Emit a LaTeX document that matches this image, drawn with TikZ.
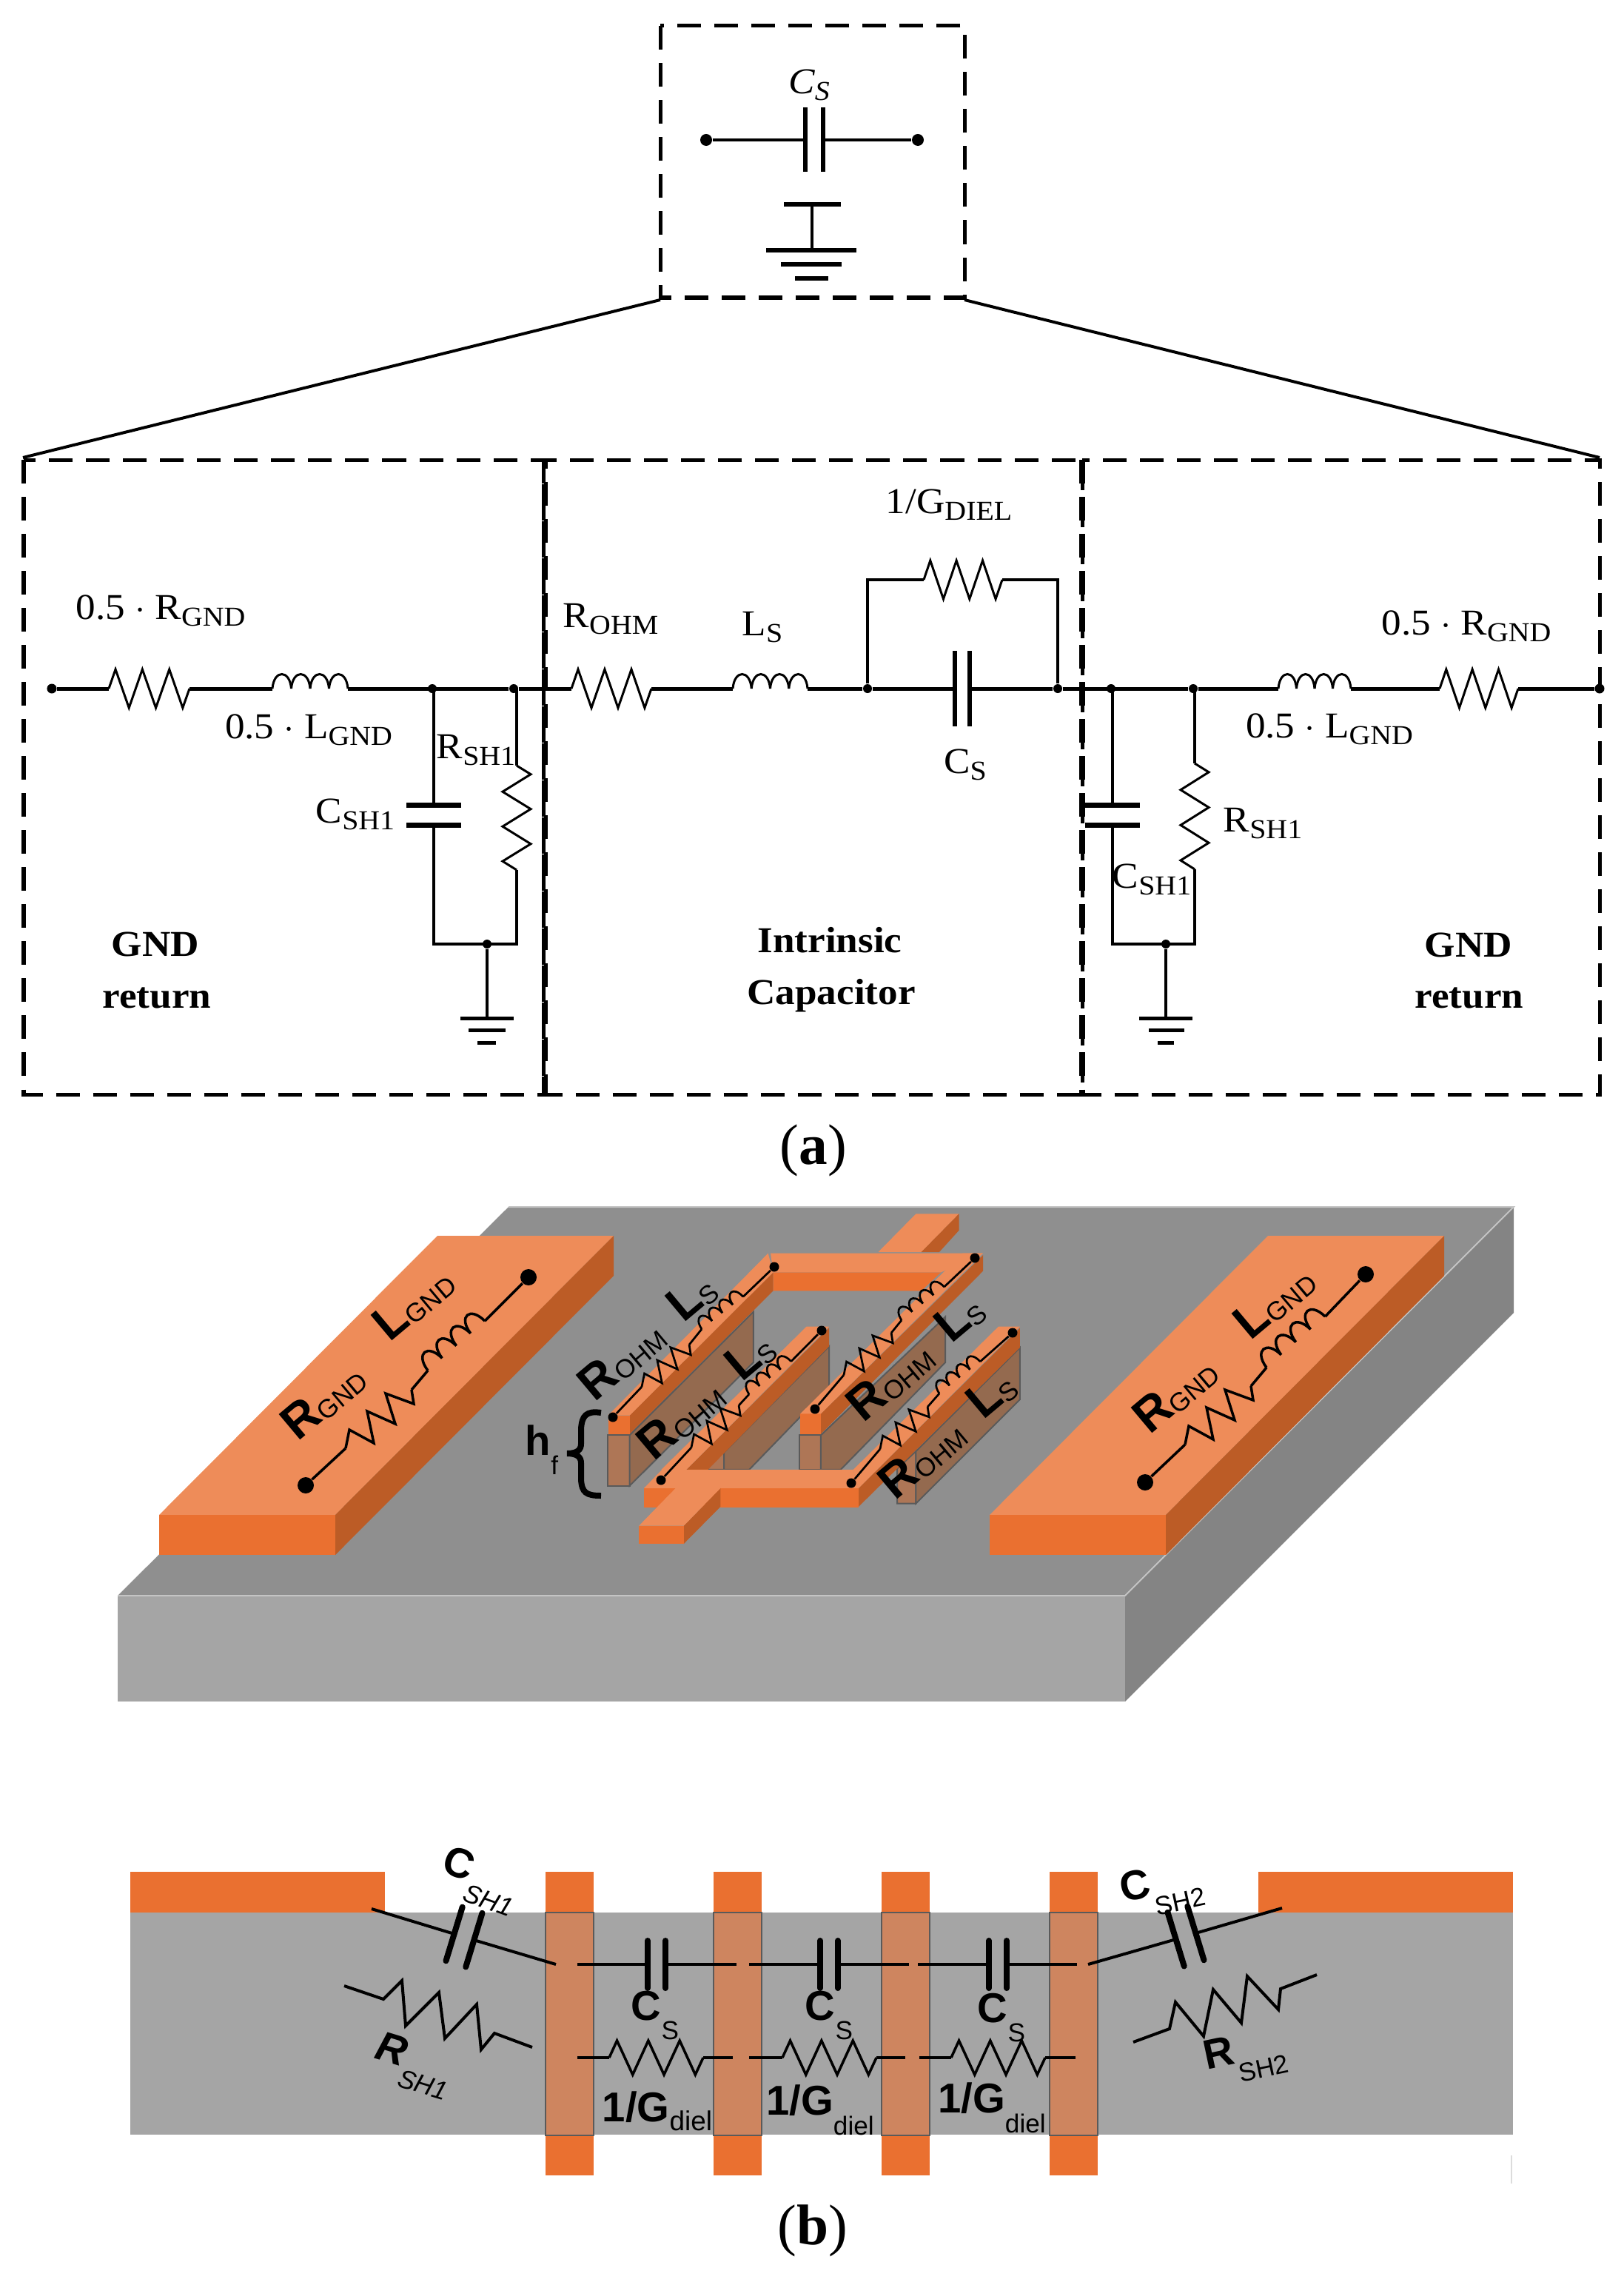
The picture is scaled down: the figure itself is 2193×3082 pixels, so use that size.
\documentclass[tikz,border=0pt]{standalone}
\usepackage{fontspec}
\setsansfont{Liberation Sans}
\newfontfamily\cktfont[FakeStretch=1.08]{Liberation Serif}
\newfontfamily\capfont{Liberation Serif}
\usetikzlibrary{calc,positioning}
\definecolor{padTop}{HTML}{EE8C59}
\definecolor{padFront}{HTML}{EA7030}
\definecolor{padSide}{HTML}{BC5C26}
\definecolor{subTop}{HTML}{8F8F8F}
\definecolor{subFront}{HTML}{A5A5A5}
\definecolor{subSide}{HTML}{848484}
\definecolor{subEdge}{HTML}{C4C4C4}
\definecolor{brownFront}{HTML}{AE7656}
\definecolor{brownSide}{HTML}{946A4F}
\definecolor{brownEdge}{HTML}{5A5A5A}
\definecolor{barOver}{HTML}{CE855F}
% sub label text
\newcommand{\sublbl}[2]{#1{\raisebox{-.4ex}{\fontsize{10.5}{10.5}\selectfont #2}}}
\newcommand{\lowlbl}[2]{#1{\raisebox{-.9ex}{\fontsize{10}{10}\selectfont\mdseries #2}}}
\newcommand{\taglbl}[2]{{\fontsize{18.5}{18.5}\selectfont #1}{\raisebox{-.2ex}{\fontsize{10}{10}\selectfont\mdseries #2}}}
\tikzset{
  dashbox/.style={line width=.05cm, dash pattern=on .32cm off .18cm},
  wire/.style={line width=.04cm},
  zigwire/.style={line width=.03cm, line join=miter},
  jdot/.style={circle, fill=black, inner sep=0pt, minimum size=.12cm},
  gndbar/.style={line width=.05cm},
  ckt/.style={font=\cktfont\fontsize{14}{14}\selectfont},
  cktb/.style={font=\cktfont\bfseries\fontsize{14}{14}\selectfont},
  brownbox/.style={draw=brownEdge, line width=.02cm},
  tag/.style={font=\sffamily\bfseries},
  tagb/.style={font=\sffamily\bfseries\fontsize{16}{16}\selectfont},
  res/.pic={
    \draw (0,0) -- (.083,-1) -- (.25,1) -- (.416,-1) -- (.583,1) -- (.75,-1) -- (.916,1) -- (1,0);
    \coordinate (-e) at (1,0);
  },
  ind/.pic={
    \foreach \h in {0,.25,.5,.75}
      \draw (\h,0) .. controls (\h+.02,-1.3) and (\h+.23,-1.3) .. (\h+.25,0);
    \coordinate (-e) at (1,0);
  },
  resthree/.pic={
    \draw (0,0) -- (5,-25) -- (38,-7) -- (29,-50) -- (67,-33) -- (54,-74) -- (92,-60) -- (89,-79);
    \coordinate (-e) at (89,-79);
  },
  cap/.pic={
    \draw (-1,-1) -- (-1,1) (1,-1) -- (1,1);
    \coordinate (-w) at (-1,0);
    \coordinate (-e) at (1,0);
  }
}
\begin{document}
\begin{tikzpicture}[x=.01cm,y=-.01cm]
  \useasboundingbox (0,0) rectangle (2193,3082);

  % Zoom box with the lumped capacitor
  \draw[dashbox] (892,35) rectangle (1303,402);
  \node[ckt, font=\cktfont\itshape\fontsize{14}{14}\selectfont] (csTop) at (1093,115) {\sublbl{C}{S}};
  \node[jdot, minimum size=.16cm] (topL) at (954,189) {};
  \node[jdot, minimum size=.16cm] (topR) at (1240,189) {};
  \pic (capTop) [line width=.06cm, xscale=12, yscale=43.5] at (1100,189) {cap};
  \draw[wire] (topL) -- (capTop-w) (capTop-e) -- (topR);
  \draw[line width=.055cm] (1059,276) -- (1136,276);
  \draw[wire] (1097,276) -- (1097,338);
  \draw[line width=.055cm] (1035,338) -- (1157,338) (1055,357) -- (1137,357) (1074,376) -- (1119,376);

  % Lines opening out to the full circuit
  \coordinate (zoomL) at (892,405);
  \coordinate (zoomR) at (1303,405);
  \coordinate (bigL) at (31,618);
  \coordinate (bigR) at (2161,618);
  \draw[wire] (zoomL) -- (bigL) (zoomR) -- (bigR);

  % Three dashed blocks
  \draw[dashbox] (32,621) rectangle (734,1478);
  \draw[dashbox] (734,621) rectangle (1462,1478);
  \draw[dashbox] (1462,621) rectangle (2161,1478);
  \draw[dashbox, dash phase=.2cm] (737,621) -- (737,1478);
  \draw[dashbox, line width=.085cm] (1462,621) -- (1462,1478);

  % Series branch
  \node[jdot, minimum size=.13cm] (termL) at (70,930) {};
  \pic (r1) [zigwire, xscale=109, yscale=26] at (147,930) {res};
  \pic (l1) [zigwire, xscale=102, yscale=20] at (368,930) {ind};
  \node[jdot] (na) at (584,930) {};
  \node[jdot] (nb) at (694,930) {};
  \pic (r2) [zigwire, xscale=108, yscale=26] at (772,930) {res};
  \pic (l2) [zigwire, xscale=101, yscale=20] at (990,930) {ind};
  \node[jdot] (nc) at (1172,930) {};
  \node[jdot] (nd) at (1429,930) {};
  \pic (cs) [line width=.065cm, xscale=10, yscale=51] at (1300,930) {cap};
  \node[jdot] (ne) at (1501,930) {};
  \node[jdot] (nf) at (1612,930) {};
  \pic (l3) [zigwire, xscale=98, yscale=20] at (1727,930) {ind};
  \pic (r4) [zigwire, xscale=106, yscale=26] at (1945,930) {res};
  \node[jdot, minimum size=.13cm] (termR) at (2161,930) {};
  \draw[wire, line width=.05cm] (termL) -- (147,930) (r1-e) -- (368,930) (l1-e) -- (nb) -- (772,930) (r2-e) -- (990,930)
    (l2-e) -- (nc) -- (cs-w) (cs-e) -- (nd) -- (nf) -- (1727,930) (l3-e) -- (1945,930) (r4-e) -- (termR);

  % Parallel resistor over the series capacitor
  \pic (r3) [zigwire, xscale=106, yscale=26] at (1248,783) {res};
  \draw[wire] (nc) -- (1172,783) -- (1248,783) (r3-e) -- (1429,783) -- (nd);

  % Left shunt branch
  \pic (csh1) [line width=.075cm, rotate=90, xscale=13.5, yscale=37] at (586,1101) {cap};
  \pic (rsh1) [zigwire, rotate=-90, xscale=141, yscale=19] at (698,1034) {res};
  \coordinate (lowL) at (586,1275);
  \coordinate (lowR) at (698,1275);
  \node[jdot] (ng) at (658,1275) {};
  \draw[wire] (586,930) -- (csh1-e) (csh1-w) -- (lowL) -- (lowR) -- (rsh1-e) (698,1034) -- (698,930);
  \draw[wire] (ng) -- (658,1375);
  \draw[gndbar] (622,1375) -- (694,1375) (633,1391) -- (683,1391) (645,1408) -- (670,1408);

  % Right shunt branch
  \pic (csh2) [line width=.075cm, rotate=90, xscale=13.5, yscale=37] at (1503,1101) {cap};
  \pic (rsh2) [zigwire, rotate=-90, xscale=143, yscale=19] at (1614,1031) {res};
  \coordinate (lowC) at (1503,1275);
  \coordinate (lowD) at (1614,1275);
  \node[jdot] (nh) at (1575,1275) {};
  \draw[wire] (1503,930) -- (csh2-e) (csh2-w) -- (lowC) -- (lowD) -- (rsh2-e) (1614,1031) -- (1614,930);
  \draw[wire] (nh) -- (1575,1375);
  \draw[gndbar] (1539,1375) -- (1611,1375) (1552,1391) -- (1600,1391) (1564,1408) -- (1586,1408);

  % Circuit labels
  \node[ckt] (lbRa) at (217,825) {0.5 $\cdot$ \sublbl{R}{GND}};
  \node[ckt] (lbLa) at (417,986) {0.5 $\cdot$ \sublbl{L}{GND}};
  \node[ckt] (lbRs) at (643,1013) {\sublbl{R}{SH1}};
  \node[ckt] (lbCs) at (480,1100) {\sublbl{C}{SH1}};
  \node[ckt] (lbRo) at (825,836) {\sublbl{R}{OHM}};
  \node[ckt] (lbLs) at (1030,847) {\sublbl{L}{S}};
  \node[ckt] (lbG) at (1282,682) {1/\sublbl{G}{DIEL}};
  \node[ckt] (lbC) at (1304,1033) {\sublbl{C}{S}};
  \node[ckt] (lbRb) at (1981,846) {0.5 $\cdot$ \sublbl{R}{GND}};
  \node[ckt] (lbLb) at (1796,985) {0.5 $\cdot$ \sublbl{L}{GND}};
  \node[ckt] (lbRt) at (1706,1112) {\sublbl{R}{SH1}};
  \node[ckt] (lbCt) at (1556,1188) {\sublbl{C}{SH1}};
  \node[cktb] (gndA) at (210,1275) {GND};
  \node[cktb] (retA) at (212,1348) {return};
  \node[cktb] (midA) at (1121,1270) {Intrinsic};
  \node[cktb] (midB) at (1123,1345) {Capacitor};
  \node[cktb] (gndB) at (1984,1276) {GND};
  \node[cktb] (retB) at (1985,1348) {return};
  \node[font=\capfont\fontsize{22}{22}\selectfont] (capA) at (1099,1554) {({\bfseries a})};

  % Substrate block
  \fill[subTop] (687,1630) -- (2045,1630) -- (1520,2155) -- (159,2155) -- cycle;
  \fill[subFront] (159,2155) rectangle (1520,2298);
  \fill[subSide] (2045,1630) -- (2045,1773) -- (1520,2298) -- (1520,2155) -- cycle;
  \draw[subEdge, line width=.02cm] (687,1630) -- (2045,1630) -- (1520,2155) -- (159,2155);

  % Ground pads
  \foreach \px in {0,1122} {
    \begin{scope}[shift={(\px,0)}]
      \fill[padTop] (591,1669) -- (829,1669) -- (453,2046) -- (215,2046) -- cycle;
      \fill[padFront] (215,2046) rectangle (453,2100);
      \fill[padSide] (829,1669) -- (829,1723) -- (453,2100) -- (453,2046) -- cycle;
    \end{scope}
  }

  % Comb, with corners as read off the close-up
  \begin{scope}[shift={(680,1620)},xscale=.4847,yscale=.3333]
    % back feed
    \fill[padTop] (1150,58) -- (1270,58) -- (1165,213) -- (1045,213) -- cycle;
    \fill[padSide] (1270,58) -- (1270,125) -- (1215,213) -- (1165,213) -- cycle;
    % dielectric walls
    \filldraw[brownbox, fill=brownFront] (290,955) rectangle (352,1160);
    \filldraw[brownbox, fill=brownSide] (352,955) -- (697,455) -- (697,660) -- (352,1160) -- cycle;
    \filldraw[brownbox, fill=brownFront] (825,955) rectangle (885,1095);
    \filldraw[brownbox, fill=brownSide] (885,955) -- (1232,475) -- (1232,660) -- (940,1095) -- (885,1095) -- cycle;
    \filldraw[brownbox, fill=brownFront] (570,1040) -- (615,1025) -- (615,1095) -- (570,1095) -- cycle;
    \filldraw[brownbox, fill=brownSide] (615,1025) -- (908,595) -- (908,760) -- (685,1095) -- (615,1095) -- cycle;
    \filldraw[brownbox, fill=brownFront] (1098,1090) -- (1150,1020) -- (1150,1232) -- (1098,1232) -- cycle;
    \filldraw[brownbox, fill=brownSide] (1150,1020) -- (1440,600) -- (1440,810) -- (1150,1232) -- cycle;
    % back comb
    \fill[padSide] (352,875) -- (752,295) -- (752,370) -- (352,950) -- cycle;
    \fill[padFront] (292,875) rectangle (352,950);
    \fill[padTop] (738,218) -- (752,295) -- (352,875) -- (292,875) -- cycle;
    \fill[padFront] (752,295) -- (1220,295) -- (1165,370) -- (752,370) -- cycle;
    \fill[padTop] (745,218) -- (1337,218) -- (1220,295) -- (752,295) -- cycle;
    \fill[padSide] (885,868) -- (1337,225) -- (1337,290) -- (885,950) -- cycle;
    \fill[padFront] (828,868) rectangle (885,950);
    \fill[padTop] (1280,218) -- (1337,218) -- (885,868) -- (828,868) -- cycle;
    % front comb
    \fill[padSide] (908,520) -- (908,595) -- (570,1095) -- (510,1095) -- cycle;
    \fill[padTop] (845,515) -- (908,515) -- (510,1095) -- (440,1095) -- cycle;
    \fill[padSide] (1440,520) -- (1440,600) -- (990,1245) -- (990,1170) -- cycle;
    \fill[padTop] (1380,515) -- (1440,515) -- (990,1170) -- (975,1095) -- cycle;
    \fill[padFront] (392,1170) rectangle (990,1248);
    \fill[padTop] (442,1095) -- (975,1095) -- (990,1170) -- (392,1170) -- cycle;
    % front feed
    \fill[padSide] (503,1322) -- (605,1170) -- (605,1245) -- (503,1395) -- cycle;
    \fill[padFront] (378,1322) rectangle (503,1395);
    \fill[padTop] (480,1170) -- (605,1170) -- (503,1322) -- (378,1322) -- cycle;
  \end{scope}

  % Pad circuits
  \node[jdot, minimum size=.22cm] (gaA) at (413,2006) {};
  \node[jdot, minimum size=.22cm] (gaB) at (714,1725) {};
  \pic (gaR) [zigwire, line width=.035cm] at (467,1956) {resthree};
  \pic (gaL) [zigwire, line width=.035cm, rotate=41, xscale=102, yscale=22] at (578,1851) {ind};
  \draw[zigwire, line width=.035cm] (gaA) -- (467,1956) (gaR-e) -- (578,1851) (gaL-e) -- (gaB);
  \node[jdot, minimum size=.22cm] (gbA) at (1547,2002) {};
  \node[jdot, minimum size=.22cm] (gbB) at (1845,1721) {};
  \pic (gbR) [zigwire, line width=.035cm] at (1601,1951) {resthree};
  \pic (gbL) [zigwire, line width=.035cm, rotate=41, xscale=105, yscale=22] at (1711,1847) {ind};
  \draw[zigwire, line width=.035cm] (gbA) -- (1601,1951) (gbR-e) -- (1711,1847) (gbL-e) -- (gbB);

  % Finger circuits
  \foreach \fn/\dA/\rS/\iS/\iL/\dB in {
    a/{828,1914}/{867,1873}/{948,1795}/71/{1046,1711},
    b/{893,1999}/{934,1955}/{1012,1883}/72/{1110,1797},
    c/{1101,1903}/{1140,1857}/{1218,1783}/73/{1317,1699},
    d/{1150,2003}/{1189,1957}/{1269,1882}/70/{1368,1800}} {
    \node[jdot, minimum size=.13cm] (\fn1) at (\dA) {};
    \node[jdot, minimum size=.13cm] (\fn2) at (\dB) {};
    \pic (\fn r) [zigwire, line width=.027cm, scale=.72] at (\rS) {resthree};
    \pic (\fn l) [zigwire, line width=.027cm, rotate=38, xscale=\iL, yscale=15] at (\iS) {ind};
    \draw[zigwire, line width=.027cm] (\fn1) -- (\rS) (\fn r-e) -- (\iS) (\fn l-e) -- (\fn2);
  }

  % Tags on the 3D view
  \node[tag, rotate=40] (tgRa) at (437,1892) {\taglbl{R}{GND}};
  \node[tag, rotate=40] (tgLa) at (559,1760) {\taglbl{L}{GND}};
  \node[tag, rotate=40] (tgRb) at (1588,1883) {\taglbl{R}{GND}};
  \node[tag, rotate=40] (tgLb) at (1722,1758) {\taglbl{L}{GND}};
  \node[tag, rotate=40] (tgOa) at (840,1837) {\taglbl{R}{OHM}};
  \node[tag, rotate=40] (tgOb) at (920,1917) {\taglbl{R}{OHM}};
  \node[tag, rotate=40] (tgOc) at (1203,1865) {\taglbl{R}{OHM}};
  \node[tag, rotate=40] (tgOd) at (1246,1970) {\taglbl{R}{OHM}};
  \node[tag, rotate=40] (tgSa) at (935,1752) {\taglbl{L}{S}};
  \node[tag, rotate=40] (tgSb) at (1014,1832) {\taglbl{L}{S}};
  \node[tag, rotate=40] (tgSc) at (1297,1780) {\taglbl{L}{S}};
  \node[tag, rotate=40] (tgSd) at (1340,1883) {\taglbl{L}{S}};

  % Height brace
  \draw[line width=.08cm] (812,1908) .. controls (792,1905) and (786,1912) .. (785,1930) -- (785,1950)
    .. controls (785,1958) and (780,1963) .. (766,1963) .. controls (780,1963) and (785,1968) .. (785,1976)
    -- (785,1998) .. controls (786,2016) and (792,2020) .. (812,2020);
  \node[font=\sffamily\bfseries\fontsize{16}{16}\selectfont] (hfTag) at (732,1958) {\lowlbl{h}{f}};

  % Cross section
  \fill[subFront] (176,2583) rectangle (2044,2883);
  \fill[padFront] (176,2528) rectangle (520,2583);
  \fill[padFront] (1700,2528) rectangle (2044,2583);
  \foreach \bx in {737,964,1191,1418} {
    \fill[padFront] (\bx,2528) rectangle +(65,410);
    \filldraw[fill=barOver, draw=brownEdge, line width=.02cm] (\bx,2583) rectangle +(65,301);
  }
  \draw[subEdge, line width=.015cm, opacity=.6] (2042,2911) -- (2042,2949);

  % Series capacitors and resistors
  \foreach \cn/\cx in {ca/887,cb/1120,cc/1348}
    \pic (\cn) [line width=.08cm, line cap=round, xscale=12, yscale=32] at (\cx,2653) {cap};
  \foreach \rn/\rx in {ra/823,rb/1057,rc/1285}
    \pic (\rn) [zigwire, line width=.035cm, xscale=127, yscale=23] at (\rx,2779) {res};
  \draw[wire] (780,2653) -- (ca-w) (ca-e) -- (995,2653) (1012,2653) -- (cb-w) (cb-e) -- (1228,2653)
    (1240,2653) -- (cc-w) (cc-e) -- (1455,2653);
  \draw[wire] (780,2779) -- (823,2779) (ra-e) -- (990,2779) (1012,2779) -- (1057,2779) (rb-e) -- (1223,2779)
    (1242,2779) -- (1285,2779) (rc-e) -- (1453,2779);

  % Shunt elements to the pads
  \pic (cshA) [line width=.08cm, line cap=round, rotate=-17, xscale=14, yscale=38] at (627,2616) {cap};
  \draw[wire] (502,2578) -- (cshA-w) (cshA-e) -- (751,2653);
  \pic (cshB) [line width=.08cm, line cap=round, rotate=17, xscale=14, yscale=38] at (1602,2615) {cap};
  \draw[wire] (1470,2653) -- (cshB-w) (cshB-e) -- (1732,2577);
  \draw[wire] (465,2682) -- (518,2700) -- (543,2675) -- (548,2736) -- (593,2691) -- (601,2753) -- (644,2707)
    -- (650,2768) -- (668,2746) -- (719,2765);
  \draw[wire] (1531,2758) -- (1580,2740) -- (1588,2704) -- (1626,2750) -- (1639,2687) -- (1677,2732)
    -- (1685,2669) -- (1727,2714) -- (1730,2686) -- (1779,2667);

  % Cross section tags
  \node[tagb, rotate=-20] (tgCa) at (648,2540) {\lowlbl{C}{\itshape SH1}};
  \node[tagb, rotate=-17, font=\sffamily\bfseries\itshape\fontsize{16}{16}\selectfont] (tgRc) at (558,2790) {\lowlbl{R}{SH1}};
  \node[tagb, rotate=12] (tgCb) at (1570,2552) {\lowlbl{C}{SH2}};
  \node[tagb, rotate=12] (tgRd) at (1683,2778) {\lowlbl{R}{SH2}};
  \node[tagb] (tgCc) at (885,2722) {\lowlbl{C}{S}};
  \node[tagb] (tgCd) at (1120,2722) {\lowlbl{C}{S}};
  \node[tagb] (tgCe) at (1353,2725) {\lowlbl{C}{S}};
  \node[tagb] (tgGa) at (888,2851) {\sublbl{1/G}{\mdseries diel}};
  \node[tagb] (tgGb) at (1108,2850) {\lowlbl{1/G}{diel}};
  \node[tagb] (tgGc) at (1340,2847) {\lowlbl{1/G}{diel}};
  \node[font=\capfont\fontsize{22}{22}\selectfont] (capB) at (1098,3013) {({\bfseries b})};
\end{tikzpicture}
\end{document}
